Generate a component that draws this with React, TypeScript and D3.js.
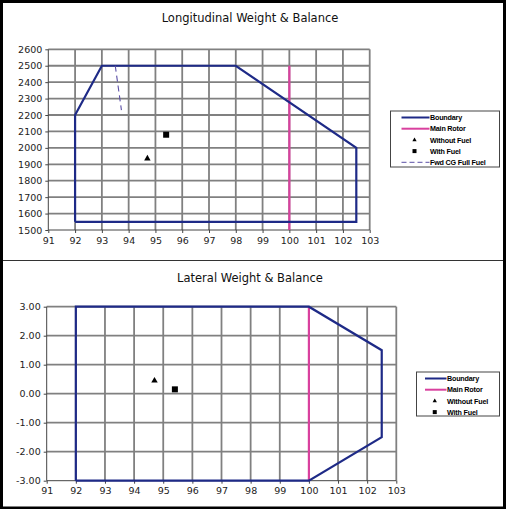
import { useEffect, useRef } from 'react';
import * as d3 from 'd3';

// longitudinal chart data
const longTicksX = [91, 92, 93, 94, 95, 96, 97, 98, 99, 100, 101, 102, 103];
const longTicksY = [1500, 1600, 1700, 1800, 1900, 2000, 2100, 2200, 2300, 2400, 2500, 2600];
const longBoundary: [number, number][] = [
  [92, 1550], [92, 2200], [93, 2500], [98, 2500], [102.5, 2000], [102.5, 1550], [92, 1550],
];
const longRotor: [number, number][] = [[100, 1500], [100, 2500]];
const longWithoutFuel: [number, number][] = [[94.7, 1935]];
const longWithFuel: [number, number][] = [[95.4, 2080]];
const longFwdCG: [number, number][] = [[93.5, 2500], [93.73, 2230]];

// lateral chart data
const latTicksX = [91, 92, 93, 94, 95, 96, 97, 98, 99, 100, 101, 102, 103];
const latTicksY = [-3, -2, -1, 0, 1, 2, 3];
const latBoundary: [number, number][] = [
  [92, -3], [92, 3], [100, 3], [102.5, 1.5], [102.5, -1.5], [100, -3], [92, -3],
];
const latRotor: [number, number][] = [[100, -3], [100, 3]];
const latWithoutFuel: [number, number][] = [[94.7, 0.45]];
const latWithFuel: [number, number][] = [[95.4, 0.15]];

const NAVY = '#1e2a87';
const PINK = '#d9409e';
const PURPLE = '#5b4fa6';
const GRID = '#808080';

interface PanelSpec {
  title: string;
  titleY: number;
  xRange: [number, number];
  yRange: [number, number];
  xTicks: number[];
  yTicks: number[];
  yFormat: (v: number) => string;
  boundary: [number, number][];
  rotor: [number, number][];
  withoutFuel: [number, number][];
  withFuel: [number, number][];
  fwdCG?: [number, number][];
  legend: { x: number; y: number; w: number; h: number };
}

const panels: PanelSpec[] = [
  {
    title: 'Longitudinal Weight & Balance',
    titleY: 22,
    xRange: [48.3, 369.7],
    yRange: [230, 49.3],
    xTicks: longTicksX,
    yTicks: longTicksY,
    yFormat: (v) => `${v}`,
    boundary: longBoundary,
    rotor: longRotor,
    withoutFuel: longWithoutFuel,
    withFuel: longWithFuel,
    fwdCG: longFwdCG,
    legend: { x: 390.5, y: 111, w: 109, h: 56 },
  },
  {
    title: 'Lateral Weight & Balance',
    titleY: 282,
    xRange: [46.7, 396.3],
    yRange: [480.7, 306.7],
    xTicks: latTicksX,
    yTicks: latTicksY,
    yFormat: (v) => v.toFixed(2),
    boundary: latBoundary,
    rotor: latRotor,
    withoutFuel: latWithoutFuel,
    withFuel: latWithFuel,
    legend: { x: 416.5, y: 372, w: 83, h: 44 },
  },
];

function drawPanel(svg: d3.Selection<SVGSVGElement, unknown, null, undefined>, p: PanelSpec) {
  const x = d3.scaleLinear().domain([p.xTicks[0], p.xTicks[p.xTicks.length - 1]]).range(p.xRange);
  const y = d3.scaleLinear().domain([p.yTicks[0], p.yTicks[p.yTicks.length - 1]]).range(p.yRange);
  const g = svg.append('g');

  g.append('text')
    .attr('x', 250)
    .attr('y', p.titleY)
    .attr('text-anchor', 'middle')
    .attr('font-family', 'DejaVu Sans, sans-serif')
    .attr('font-size', '11.5px')
    .attr('fill', '#111')
    .text(p.title);

  // grid
  g.selectAll('.vgrid')
    .data(p.xTicks.slice(1))
    .join('line')
    .attr('x1', (d) => x(d))
    .attr('x2', (d) => x(d))
    .attr('y1', y.range()[0])
    .attr('y2', y.range()[1])
    .attr('stroke', GRID)
    .attr('stroke-width', 1.8);

  g.selectAll('.hgrid')
    .data(p.yTicks.slice(1))
    .join('line')
    .attr('x1', x.range()[0])
    .attr('x2', x.range()[1])
    .attr('y1', (d) => y(d))
    .attr('y2', (d) => y(d))
    .attr('stroke', GRID)
    .attr('stroke-width', 1.8);

  // axes
  const xAxis = d3.axisBottom(x).tickValues(p.xTicks).tickSize(3).tickPadding(4).tickFormat((d) => `${d}`);
  const yAxis = d3.axisLeft(y).tickValues(p.yTicks).tickSize(3).tickPadding(3)
    .tickFormat((d) => p.yFormat(+d));

  const styleAxis = (a: d3.Selection<SVGGElement, unknown, null, undefined>) => {
    a.select('.domain').attr('stroke', '#444').attr('stroke-width', 1);
    a.selectAll('.tick line').attr('stroke', '#444');
    a.selectAll('.tick text')
      .attr('font-family', 'DejaVu Sans, sans-serif')
      .attr('font-size', '9.5px')
      .attr('fill', '#222');
  };

  g.append('g')
    .attr('transform', `translate(0,${y.range()[0]})`)
    .call(xAxis)
    .call(styleAxis)
    .call((a) => a.select('.domain').attr('d', `M${x.range()[0]},0H${x.range()[1]}`));

  g.append('g')
    .attr('transform', `translate(${x.range()[0]},0)`)
    .call(yAxis)
    .call(styleAxis)
    .call((a) => a.select('.domain').attr('d', `M0,${y.range()[0]}V${y.range()[1]}`));

  const line = d3.line<[number, number]>().x((d) => x(d[0])).y((d) => y(d[1]));

  g.append('path')
    .attr('d', line(p.rotor))
    .attr('fill', 'none')
    .attr('stroke', PINK)
    .attr('stroke-width', 2.2);

  g.append('path')
    .attr('d', line(p.boundary))
    .attr('fill', 'none')
    .attr('stroke', NAVY)
    .attr('stroke-width', 2.2)
    .attr('stroke-linejoin', 'miter');

  if (p.fwdCG) {
    g.append('path')
      .attr('d', line(p.fwdCG))
      .attr('fill', 'none')
      .attr('stroke', PURPLE)
      .attr('stroke-width', 1.1)
      .attr('stroke-dasharray', '6,4');
  }

  g.selectAll('.tri')
    .data(p.withoutFuel)
    .join('path')
    .attr('transform', (d) => `translate(${x(d[0])},${y(d[1])})`)
    .attr('d', d3.symbol(d3.symbolTriangle, 18)())
    .attr('fill', '#000');

  g.selectAll('.sq')
    .data(p.withFuel)
    .join('rect')
    .attr('x', (d) => x(d[0]) - 3)
    .attr('y', (d) => y(d[1]) - 3)
    .attr('width', 6)
    .attr('height', 6)
    .attr('fill', '#000');

  // legend
  const lg = g.append('g').attr('transform', `translate(${p.legend.x},${p.legend.y})`);
  lg.append('rect')
    .attr('width', p.legend.w)
    .attr('height', p.legend.h)
    .attr('fill', '#fff')
    .attr('stroke', '#444')
    .attr('stroke-width', 1);

  const items = [
    { label: 'Boundary', kind: 'line', color: NAVY },
    { label: 'Main Rotor', kind: 'line', color: PINK },
    { label: 'Without Fuel', kind: 'tri', color: '#000' },
    { label: 'With Fuel', kind: 'sq', color: '#000' },
  ];
  if (p.fwdCG) items.push({ label: 'Fwd CG Full Fuel', kind: 'dash', color: PURPLE });

  const lineX0 = p.fwdCG ? 11 : 8.5;
  const lineX1 = p.fwdCG ? 39 : 30;
  items.forEach((it, i) => {
    const cy = 6.5 + i * 11.2;
    const mx = (lineX0 + lineX1) / 2 - 1;
    if (it.kind === 'line' || it.kind === 'dash') {
      lg.append('line')
        .attr('x1', lineX0)
        .attr('x2', lineX1)
        .attr('y1', cy)
        .attr('y2', cy)
        .attr('stroke', it.color)
        .attr('stroke-width', it.kind === 'dash' ? 1 : 2)
        .attr('stroke-dasharray', it.kind === 'dash' ? '5,3' : null);
    } else if (it.kind === 'tri') {
      lg.append('path')
        .attr('transform', `translate(${mx},${cy})`)
        .attr('d', d3.symbol(d3.symbolTriangle, 8)())
        .attr('fill', '#000');
    } else {
      lg.append('rect')
        .attr('x', mx - 2)
        .attr('y', cy - 2)
        .attr('width', 4)
        .attr('height', 4)
        .attr('fill', '#000');
    }
    lg.append('text')
      .attr('x', lineX1 + 0.5)
      .attr('y', cy + 2.6)
      .attr('font-family', 'Liberation Sans, Arial, sans-serif')
      .attr('font-size', '7.2px')
      .attr('font-weight', 'bold')
      .attr('letter-spacing', '-0.2px')
      .attr('fill', '#000')
      .text(it.label);
  });
}

export default function App() {
  const svgRef = useRef<SVGSVGElement>(null);

  useEffect(() => {
    if (!svgRef.current) return;
    const svg = d3.select(svgRef.current);
    svg.selectAll('*').remove();

    // black frame with white inside
    svg.append('rect').attr('width', 506).attr('height', 509).attr('fill', '#000');
    svg.append('rect').attr('x', 3).attr('y', 3).attr('width', 500).attr('height', 503.5).attr('fill', '#fff');
    svg.append('line')
      .attr('x1', 3)
      .attr('x2', 503)
      .attr('y1', 260.5)
      .attr('y2', 260.5)
      .attr('stroke', '#333')
      .attr('stroke-width', 1.2);

    panels.forEach((p) => drawPanel(svg, p));
  }, []);

  return (
    <svg
      ref={svgRef}
      width={506}
      height={509}
      style={{ position: 'absolute', left: 0, top: 0 }}
    />
  );
}
